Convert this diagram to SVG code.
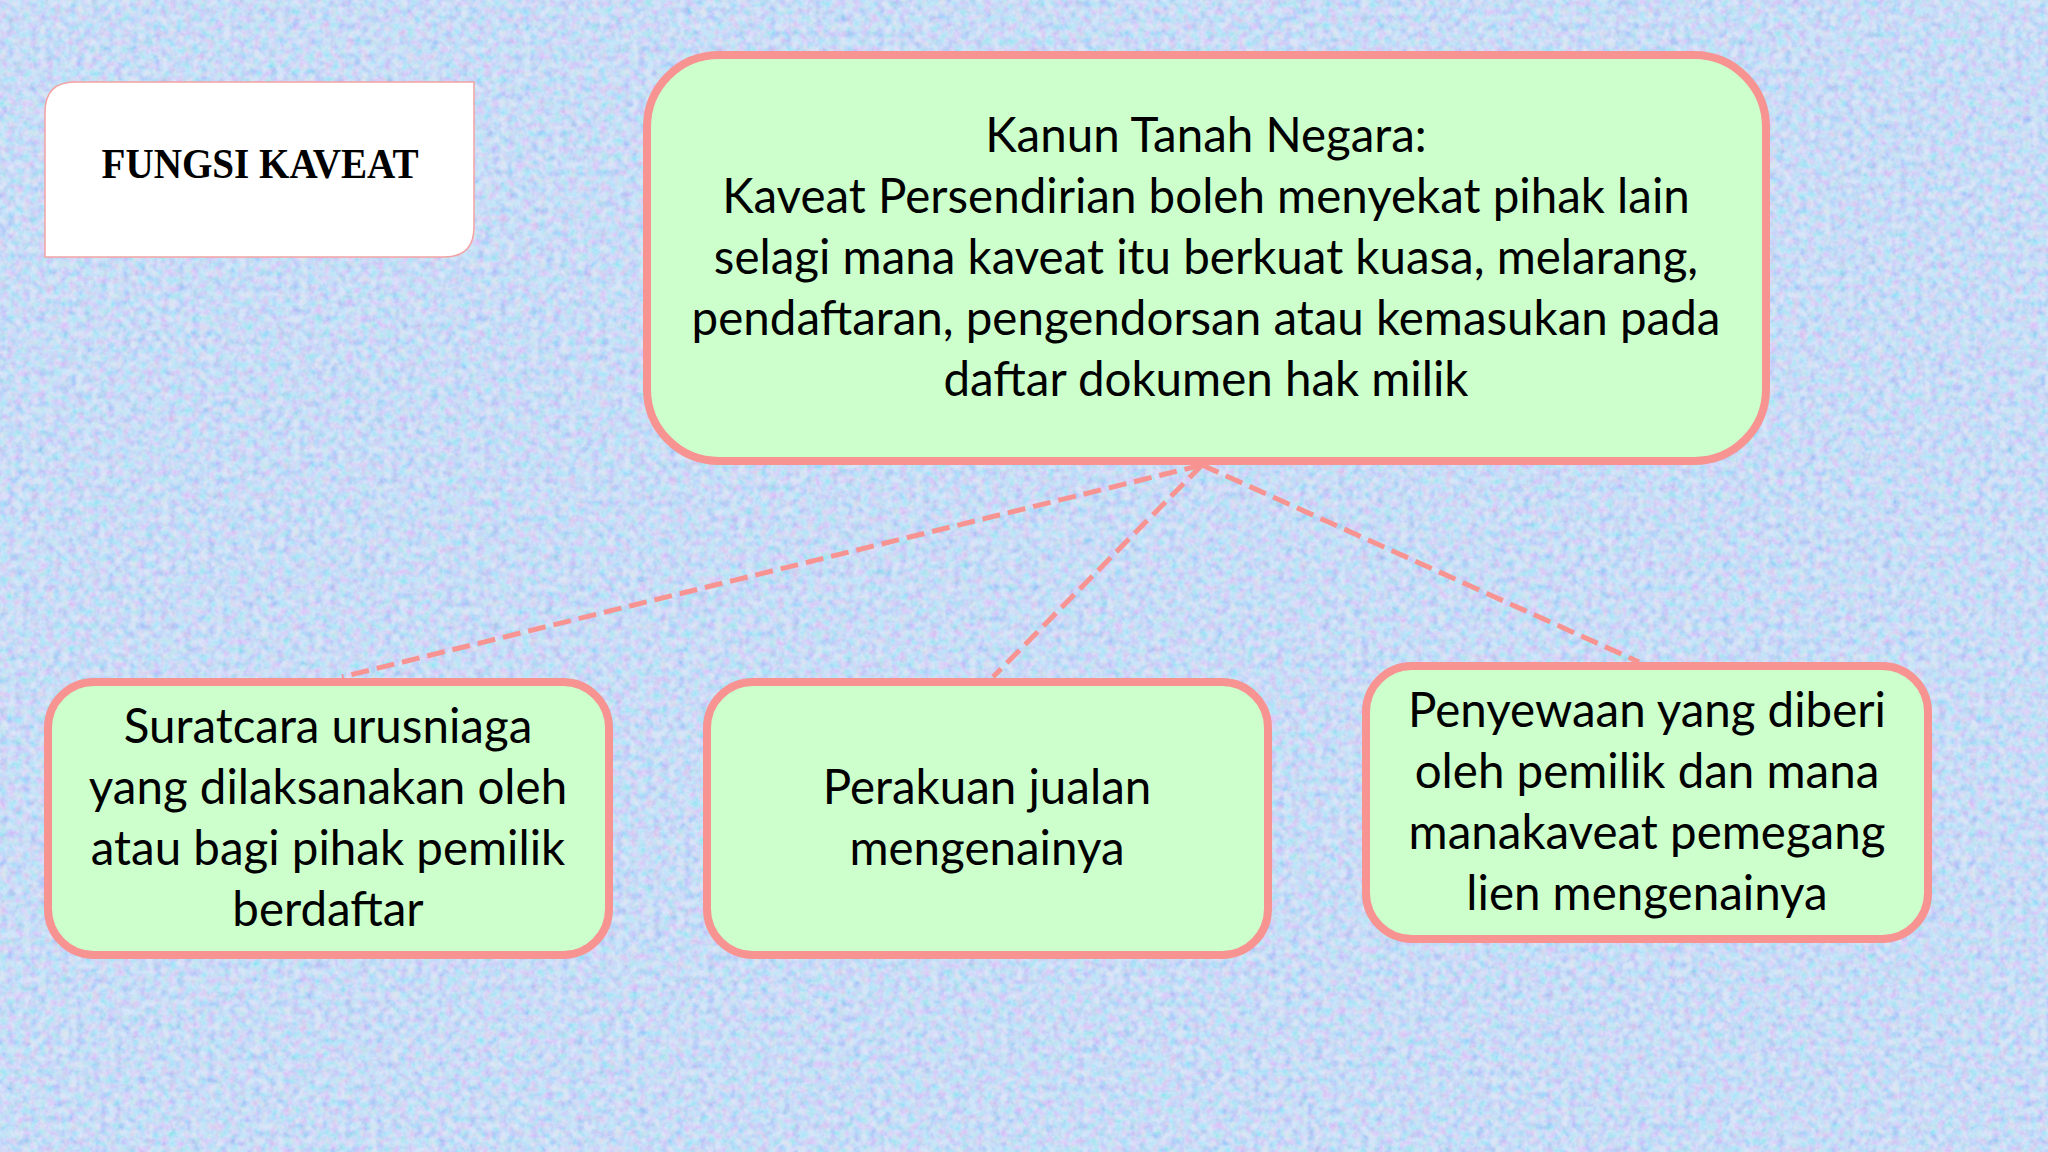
<svg xmlns="http://www.w3.org/2000/svg" width="2048" height="1152" viewBox="0 0 2048 1152">
  <defs>
    <filter id="noise" x="0" y="0" width="100%" height="100%">
      <feTurbulence type="fractalNoise" baseFrequency="0.13" numOctaves="3" seed="7" result="t"/>
      <feColorMatrix in="t" type="matrix" values="1.4 0 0 0 0.0  0 1.1 0 0 0.3  0 0 0.5 0 0.72  0 0 0 0 0.5"/>
    </filter>
    <style>
      .node { fill: #ccffcc; stroke: #f79391; stroke-width: 8; }
      .txt { font-family: "Lato", "Liberation Sans", sans-serif; font-size: 47.5px; fill: #000; text-anchor: middle; }
      .conn { stroke: #f79391; stroke-width: 5; stroke-dasharray: 18 8; fill: none; }
      .title { font-family: "Liberation Serif", serif; font-size: 42px; font-weight: bold; fill: #000; text-anchor: middle; }
    </style>
  </defs>
  <rect x="0" y="0" width="2048" height="1152" fill="#b6caf2"/>
  <rect x="0" y="0" width="2048" height="1152" filter="url(#noise)"/>

  <g id="title">
    <path d="M45 257 L45 112 Q45 82 75 82 L474 82 L474 227 Q474 257 444 257 Z" fill="#ffffff" stroke="#f4a3a3" stroke-width="1.5"/>
    <text class="title" x="260" y="178" textLength="317" lengthAdjust="spacingAndGlyphs">FUNGSI KAVEAT</text>
  </g>

  <g id="connectors">
    <line class="conn" x1="1202" y1="465" x2="342" y2="677"/>
    <line class="conn" x1="1202" y1="465" x2="993" y2="677"/>
    <line class="conn" x1="1202" y1="465" x2="1639" y2="662"/>
  </g>

  <g id="main">
    <rect class="node" x="647" y="55" width="1119" height="406" rx="72" ry="72"/>
    <text class="txt" x="1206" y="152">Kanun Tanah Negara:</text>
    <text class="txt" x="1206" y="213">Kaveat Persendirian boleh menyekat pihak lain</text>
    <text class="txt" x="1206" y="274">selagi mana kaveat itu berkuat kuasa, melarang,</text>
    <text class="txt" x="1206" y="335">pendaftaran, pengendorsan atau kemasukan pada</text>
    <text class="txt" x="1206" y="396">daftar dokumen hak milik</text>
  </g>

  <g id="left">
    <rect class="node" x="48" y="682" width="561" height="273" rx="46" ry="46"/>
    <text class="txt" x="328" y="743">Suratcara urusniaga</text>
    <text class="txt" x="328" y="804">yang dilaksanakan oleh</text>
    <text class="txt" x="328" y="865">atau bagi pihak pemilik</text>
    <text class="txt" x="328" y="926">berdaftar</text>
  </g>

  <g id="middle">
    <rect class="node" x="707" y="682" width="561" height="273" rx="46" ry="46"/>
    <text class="txt" x="987" y="804">Perakuan jualan</text>
    <text class="txt" x="987" y="865">mengenainya</text>
  </g>

  <g id="right">
    <rect class="node" x="1366" y="666" width="562" height="273" rx="46" ry="46"/>
    <text class="txt" x="1647" y="727">Penyewaan yang diberi</text>
    <text class="txt" x="1647" y="788">oleh pemilik dan mana</text>
    <text class="txt" x="1647" y="849">manakaveat pemegang</text>
    <text class="txt" x="1647" y="910">lien mengenainya</text>
  </g>
</svg>
